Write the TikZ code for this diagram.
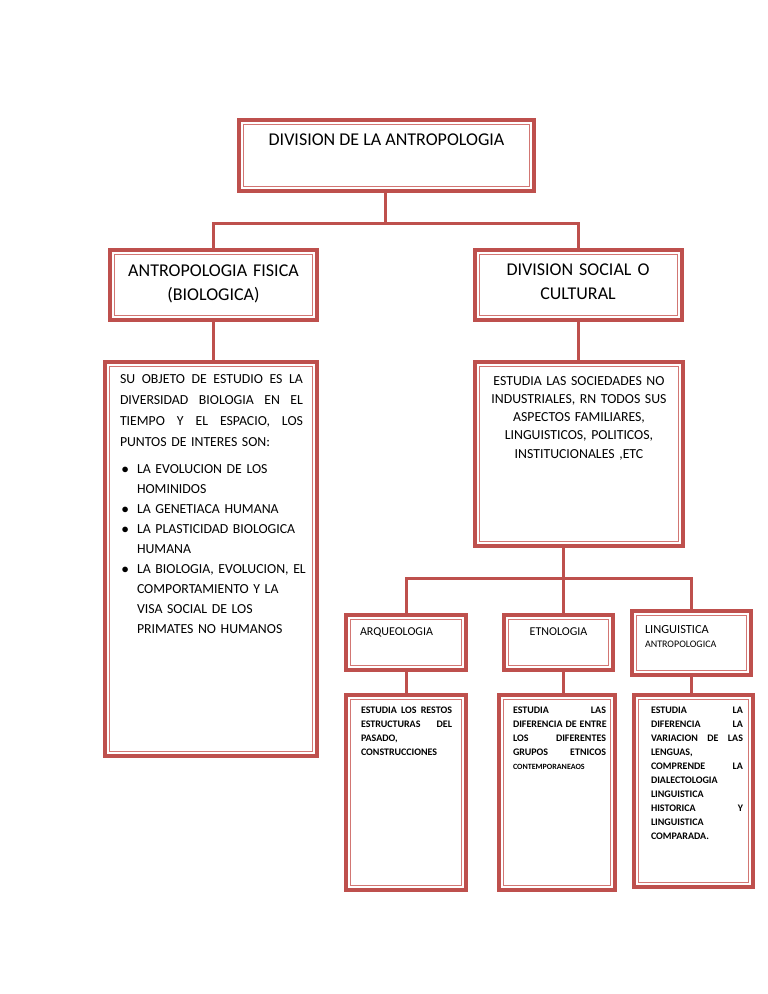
\documentclass[tikz,border=0pt]{standalone}
\usepackage{fontspec}
\setmainfont{Carlito}
\definecolor{bcol}{RGB}{190,80,77}
\definecolor{icol}{RGB}{210,118,115}
\tikzset{
  boxo/.style={draw=bcol, line width=4pt, fill=white, inner sep=0pt, outer sep=0pt, anchor=north west},
  boxi/.style={draw=icol, line width=1.3pt},
  conn/.style={draw=bcol, line width=3pt},
  txt/.style={inner sep=0pt, outer sep=0pt, text=black},
  big/.style={font=\fontsize{18}{24.5}\selectfont},
  mid/.style={font=\fontsize{13.8}{#1}\selectfont},
  sml/.style={font=\bfseries\fontsize{10}{14}\selectfont},
}
\newcommand{\jl}[2]{\leavevmode\hbox to #1{\spaceskip=0.3em plus 1fil\relax #2}}
\newcommand{\bul}{\makebox[17pt][l]{\hspace{1.5pt}$\bullet$}}
\newcommand{\ind}{\hspace*{17pt}}
\newcommand{\mybox}[5]{%
  \pgfmathsetmacro\bw{#4-#2-4}\pgfmathsetmacro\bh{#5-#3-4}%
  \node[boxo, minimum width=\bw pt, minimum height=\bh pt] (#1) at (#2+2,#3+2) {};
  \draw[boxi] ([shift={(4.2,4.2)}]#1.north west) rectangle ([shift={(-4.2,-4.2)}]#1.south east);
}
\begin{document}
\begin{tikzpicture}[x=1pt,y=-1pt]
\fill[white] (0,0) rectangle (768,994);
\useasboundingbox (0,0) rectangle (768,994);

\mybox{top}{237}{118}{536}{193}
\mybox{fis}{108}{248}{319}{322}
\mybox{soc}{473}{248}{684}{322}
\mybox{bigb}{103}{360}{319}{758}
\mybox{est}{473}{360}{685}{548}
\mybox{arq}{344}{613}{468}{672}
\mybox{etn}{502}{613}{615}{672}
\mybox{lin}{630}{609}{753}{677}
\mybox{arqd}{344}{693}{468}{892}
\mybox{etnd}{497}{693}{617}{892}
\mybox{lind}{632}{693}{755}{889}

\coordinate (j1) at (385,223);
\coordinate (j2) at (563,578);
\draw[conn] (top.south -| j1) -- (j1);
\draw[conn] (fis.north) |- (j1) -| (soc.north);
\draw[conn] (fis.south) -- (fis.south |- bigb.north);
\draw[conn] (soc.south) -- (soc.south |- est.north);
\draw[conn] (est.south -| j2) -- (j2);
\draw[conn] (arq.north) |- (j2) -| (lin.north);
\draw[conn] (j2) -- (etn.north -| j2);
\draw[conn] (arq.south) -- (arq.south |- arqd.north);
\draw[conn] (etn.south -| j2) -- (etnd.north -| j2);
\draw[conn] (lin.south) -- (lin.south |- lind.north);

\node[txt, big, anchor=base] (ttop) at (386.5,145.5) {DIVISION DE LA ANTROPOLOGIA};
\node[txt, big, text width=200pt, align=center, anchor=base] (tfis) at (213.5,276) {ANTROPOLOGIA FISICA\\(BIOLOGICA)};
\node[txt, big, text width=200pt, align=center, anchor=base] (tsoc) at (578,275) {DIVISION SOCIAL O\\CULTURAL};
\node[txt, mid=18.3, text width=200pt, align=center, anchor=base] (test) at (579,385) {ESTUDIA LAS SOCIEDADES NO\\INDUSTRIALES, RN TODOS SUS\\ASPECTOS FAMILIARES,\\LINGUISTICOS, POLITICOS,\\INSTITUCIONALES ,ETC};
\node[txt, mid=21.3, text width=183pt, anchor=base west] (tbig) at (120,383) {\jl{183pt}{SU OBJETO DE ESTUDIO ES LA}\\\jl{183pt}{DIVERSIDAD BIOLOGIA EN EL}\\\jl{183pt}{TIEMPO Y EL ESPACIO, LOS}\\PUNTOS DE INTERES SON:};
\node[txt, mid=20, text width=190pt, align=left, anchor=base west] (tbul) at (120,473) {\bul LA EVOLUCION DE LOS\\\ind HOMINIDOS\\\bul LA GENETIACA HUMANA\\\bul LA PLASTICIDAD BIOLOGICA\\\ind HUMANA\\\bul LA BIOLOGIA, EVOLUCION, EL\\\ind COMPORTAMIENTO Y LA\\\ind VISA SOCIAL DE LOS\\\ind PRIMATES NO HUMANOS};

\node[txt, font=\fontsize{12}{14}\selectfont, anchor=base west] (tarq) at (360,635) {ARQUEOLOGIA};
\node[txt, font=\fontsize{12}{14}\selectfont, anchor=base] (tetn) at (558.5,635) {ETNOLOGIA};
\node[txt, font=\fontsize{12.4}{14}\selectfont, anchor=base west] (tlin1) at (645,633) {LINGUISTICA};
\node[txt, font=\fontsize{10}{12}\selectfont, anchor=base west] (tlin2) at (645,647) {ANTROPOLOGICA};

\node[txt, sml, text width=91pt, anchor=base west] (tarqd) at (361,713) {\jl{91pt}{ESTUDIA LOS RESTOS}\\\jl{91pt}{ESTRUCTURAS DEL}\\PASADO,\\CONSTRUCCIONES};
\node[txt, sml, text width=93pt, anchor=base west] (tetnd) at (513,713) {\jl{93pt}{ESTUDIA LAS}\\\jl{93pt}{DIFERENCIA DE ENTRE}\\\jl{93pt}{LOS DIFERENTES}\\\jl{93pt}{GRUPOS ETNICOS}\\{\fontsize{8}{14}\selectfont CONTEMPORANEAOS}};
\node[txt, sml, text width=92pt, anchor=base west] (tlind) at (651,713) {\jl{92pt}{ESTUDIA LA}\\\jl{92pt}{DIFERENCIA LA}\\\jl{92pt}{VARIACION DE LAS}\\LENGUAS,\\\jl{92pt}{COMPRENDE LA}\\DIALECTOLOGIA\\LINGUISTICA\\\jl{92pt}{HISTORICA Y}\\LINGUISTICA\\COMPARADA.};
\end{tikzpicture}
\end{document}
